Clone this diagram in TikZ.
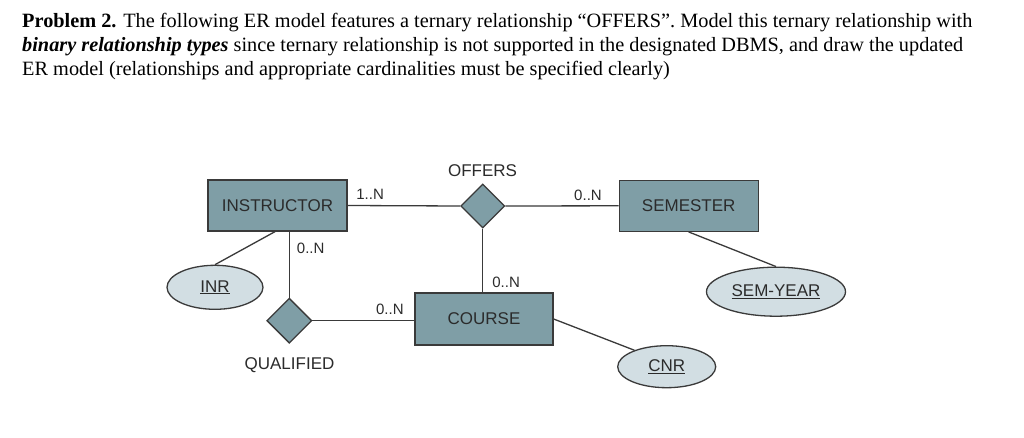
\documentclass[tikz,border=0pt]{standalone}
\usepackage{fontspec}
\setmainfont{Liberation Serif}
\newfontfamily\erfont{Liberation Sans}
\usetikzlibrary{shapes.geometric}
\definecolor{entfill}{HTML}{7F9EA6}
\definecolor{attfill}{HTML}{D2DEE3}
\definecolor{erline}{HTML}{3A3A3A}
\definecolor{ertext}{HTML}{2B2B2B}
\begin{document}
\begin{tikzpicture}[x=1pt, y=-1pt,
    entity/.style={draw=erline, fill=entfill, line width=1.3pt, minimum width=139pt, minimum height=51pt, inner sep=0pt, text=ertext, font=\erfont\fontsize{17}{19}\selectfont},
    relation/.style={diamond, draw=erline, fill=entfill, line width=1.3pt, minimum width=44pt, minimum height=44pt, inner sep=0pt},
    attrib/.style={ellipse, draw=erline, fill=attfill, line width=1.3pt, inner sep=0pt, text=ertext, font=\erfont\fontsize{17}{19}\selectfont},
    rlabel/.style={text=ertext, font=\erfont\fontsize{17}{19}\selectfont},
    card/.style={text=ertext, inner sep=0pt, font=\erfont\fontsize{15}{16}\selectfont},
    conn/.style={draw=erline, line width=1.3pt},
    problem/.style={anchor=base west, inner sep=0pt, font=\fontsize{20.3}{24}\selectfont}]
    \useasboundingbox[fill=white] (0,0) rectangle (1024,438);
    % problem statement
    \node[problem] (line1) at (22,27.3) {\textbf{Problem 2.} The following ER model features a ternary relationship “OFFERS”. Model this ternary relationship with};
    \node[problem] (line2) at (22,51.7) {\textbf{\textit{binary relationship types}} since ternary relationship is not supported in the designated DBMS, and draw the updated};
    \node[problem] (line3) at (22,76) {ER model (relationships and appropriate cardinalities must be specified clearly)};
    % entities
    \node[entity] (instr) at (277.5,205.5) {INSTRUCTOR};
    \node[entity] (sem) at (688.7,205.8) {SEMESTER};
    \node[entity, minimum width=138pt, minimum height=52pt] (course) at (484,319) {COURSE};
    % relationships
    \node[relation] (offers) at (482.7,206) {};
    \node[relation, minimum width=45pt, minimum height=45pt] (qual) at (289.3,320.7) {};
    \node[rlabel] (offerslbl) at (482.5,170.7) {OFFERS};
    \node[rlabel] (quallbl) at (289.5,365) {QUALIFIED};
    % attributes
    \node[attrib, minimum width=96pt, minimum height=44pt] (inr) at (215,287.3) {\underline{INR}};
    \node[attrib, minimum width=139pt, minimum height=49pt] (semyear) at (776,291.7) {\underline{SEM-YEAR}};
    \node[attrib, minimum width=98pt, minimum height=42pt] (cnr) at (666.7,366.7) {\underline{CNR}};
    % connectors
    \draw[conn] (instr.east) -- node[card, pos=0.2, above=5pt] {1..N} (offers.west);
    \draw[conn] (offers.east) -- node[card, pos=0.73, above=5pt] {0..N} (sem.west);
    \draw[conn] (offers.south) -- node[card, pos=0.84, right=9pt] {0..N} (offers.south |- course.north);
    \draw[conn] (instr.south -| qual.north) -- node[card, pos=0.25, right=7pt] {0..N} (qual.north);
    \draw[conn] (qual.east) -- node[card, pos=0.76, above=5pt] {0..N} (qual.east -| course.west);
    \draw[conn] (instr.south) ++(-2.5,0) -- (inr.north);
    \draw[conn] (sem.south) -- (semyear.north);
    \draw[conn] (course.east) -- (cnr.153);
\end{tikzpicture}
\end{document}
